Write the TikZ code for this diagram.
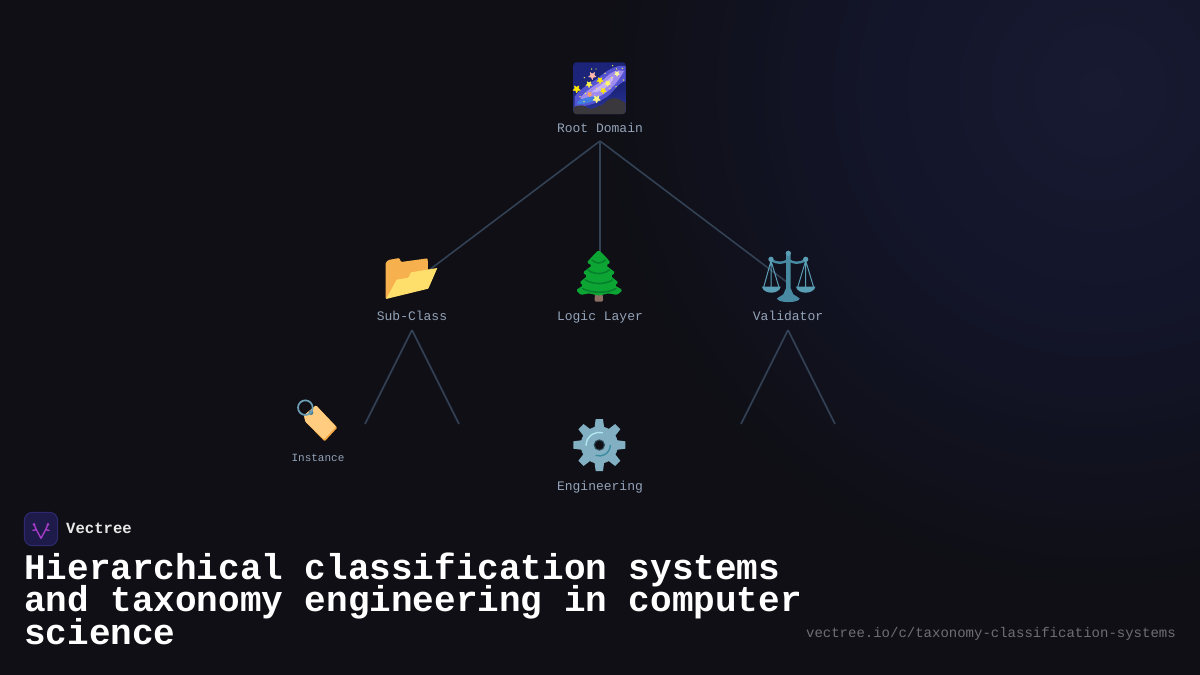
\documentclass[tikz,border=0pt]{standalone}
\usepackage{fontspec}
\setmainfont{Liberation Mono}
\definecolor{bgbase}{HTML}{0F0F15}
\definecolor{bgglow}{HTML}{171A31}
\definecolor{bgmid}{HTML}{13152A}
\definecolor{edgecol}{HTML}{334155}
\definecolor{labelcol}{HTML}{94A3B8}
\definecolor{urlcol}{HTML}{6E6E74}
\definecolor{brandcol}{HTML}{E8E8E8}
\definecolor{skytop}{HTML}{1B2478}
\definecolor{skybot}{HTML}{3B46B8}
\pgfdeclareradialshading{bgshade}{\pgfpoint{0bp}{0bp}}{color(0bp)=(bgglow); color(11bp)=(bgmid); color(25bp)=(bgbase); color(50bp)=(bgbase)}
\pgfdeclareverticalshading{skyshade}{100bp}{color(0bp)=(skybot); color(50bp)=(skytop); color(100bp)=(skytop)}
\tikzset{
  edge/.style={draw=edgecol,line width=1.6pt},
  lbl/.style={text=labelcol,font=\fontsize{13}{15}\selectfont,inner sep=0pt,anchor=base},
  lblsmall/.style={text=labelcol,font=\fontsize{11}{13}\selectfont,inner sep=0pt,anchor=base},
  titleline/.style={text=white,font=\fontsize{36}{36}\bfseries\selectfont,inner sep=0pt,anchor=base west},
  icon/.style={shift={#1},scale=1/3}
}
\newcommand\emstar[4]{\fill[#4,shift={(#1,#2)},line join=round,draw=#4,line width=.4pt] (90:#3) -- (126:0.45*#3) -- (162:#3) -- (198:0.45*#3) -- (234:#3) -- (270:0.45*#3) -- (306:#3) -- (342:0.45*#3) -- (18:#3) -- (54:0.45*#3) -- cycle;}
\begin{document}
\begin{tikzpicture}[x=1pt,y=-1pt]
\useasboundingbox (0,0) rectangle (1200,675);
\fill[bgbase] (0,0) rectangle (1200,675);
\begin{scope}
\clip (0,0) rectangle (1200,675);
\shade[shading=bgshade] (1100,90) circle (500);
\end{scope}

% labels
\node[lbl] (rootL) at (600,132.5) {Root Domain};
\node[lbl] (subL) at (412,320.5) {Sub-Class};
\node[lbl] (logicL) at (600,320.5) {Logic Layer};
\node[lbl] (validL) at (788,320.5) {Validator};
\node[lblsmall] (instL) at (318,461.5) {Instance};
\node[lbl] (engL) at (600,490.5) {Engineering};

% connector ends
\coordinate (rootOut) at (600,141);
\coordinate (subIcon) at (412,283);
\coordinate (logicIcon) at (600,283);
\coordinate (validIcon) at (788,283);
\coordinate (subOut) at (412,330);
\coordinate (validOut) at (788,330);
\coordinate (subA) at (365,424);
\coordinate (subB) at (459,424);
\coordinate (validA) at (741,424);
\coordinate (validB) at (835,424);
\draw[edge] (rootOut) -- (subIcon);
\draw[edge] (rootOut) -- (logicIcon);
\draw[edge] (rootOut) -- (validIcon);
\draw[edge] (subOut) -- (subA);
\draw[edge] (subOut) -- (subB);
\draw[edge] (validOut) -- (validA);
\draw[edge] (validOut) -- (validB);

% Milky way icon (zoom coordinates, origin 560,55)
\begin{scope}[icon={(560,55)}]
\begin{scope}
\clip[rounded corners=3pt] (40,22) rectangle (197,177);
\shade[shading=skyshade] (40,22) rectangle (197,177);
\fill[color={rgb,255:red,84;green,84;blue,210}] (44,125) .. controls (70,90) and (100,82) .. (125,60) .. controls (150,40) and (175,28) .. (197,34) -- (197,78) .. controls (170,84) and (160,118) .. (130,132) .. controls (105,148) and (70,156) .. (44,156) -- cycle;
\fill[color={rgb,255:red,160;green,140;blue,238}] (60,130) .. controls (85,98) and (120,85) .. (140,65) .. controls (155,50) and (172,42) .. (192,48) .. controls (180,70) and (160,100) .. (130,118) .. controls (105,132) and (80,140) .. (60,130) -- cycle;
\fill[color={rgb,255:red,200;green,180;blue,245}] (95,112) .. controls (110,98) and (135,82) .. (160,62) .. controls (165,75) and (145,95) .. (125,105) .. controls (115,110) and (105,114) .. (95,112) -- cycle;
\fill[color={rgb,255:red,66;green,125;blue,225}] (52,140) .. controls (75,125) and (100,124) .. (122,124) .. controls (105,138) and (80,148) .. (52,148) -- cycle;
\fill[color={rgb,255:red,58;green,56;blue,60}] (40,156) .. controls (60,150) and (72,148) .. (85,160) .. controls (100,166) and (115,152) .. (130,148) .. controls (150,124) and (172,124) .. (197,145) -- (197,177) -- (40,177) -- cycle;
\end{scope}
\emstar{50}{102}{12}{yellow!90!orange}
\emstar{87}{88}{10}{yellow!70!white}
\emstar{120}{76}{10}{yellow!90!orange}
\emstar{143}{85}{9}{yellow!60!white}
\emstar{130}{107}{9}{yellow!90!orange}
\emstar{110}{132}{12}{yellow!50!white}
\emstar{97}{62}{12}{pink!90!orange}
\emstar{89}{118}{8}{orange!50!pink}
\emstar{171}{56}{8}{yellow!40!white}
\foreach \sx/\sy in {73/68,95/42,108/42,158/32,170/42,187/40,168/95,190/75,135/55,60/125,72/140,150/100,110/100,76/115,155/68}
  \fill[yellow!70!white] (\sx,\sy) circle (2.2);
\end{scope}

% Folder icon (origin 360,240)
\begin{scope}[icon={(360,240)}]
\fill[color={rgb,255:red,246;green,176;blue,77},rounded corners=1pt] (77,177) -- (77,68) -- (85,60) -- (118,54) -- (123,66) -- (203,55) -- (205,120) -- cycle;
\fill[color={rgb,255:red,255;green,223;blue,107},rounded corners=.5pt] (78,177) -- (110,119) -- (145,113) -- (153,97) -- (232,84) -- (205,146) -- cycle;
\end{scope}

% Tree icon (origin 360,240)
\begin{scope}[icon={(360,240)}]
\definecolor{treeb}{RGB}{12,165,52}
\definecolor{treed}{RGB}{6,128,44}
\fill[color={rgb,255:red,141;green,110;blue,99},rounded corners=1.5pt] (706,155) -- (727,155) -- (730,185) -- (703,185) -- cycle;
\fill[treeb,rounded corners=1.5pt] (716,30) -- (735,48) -- (752,68) -- (738,76) -- (766,98) -- (752,108) -- (776,128) -- (764,136) -- (788,150) -- (772,165) -- (745,160) -- (716,167) -- (687,160) -- (662,165) -- (648,150) -- (670,136) -- (658,128) -- (682,108) -- (668,98) -- (696,76) -- (680,68) -- (698,48) -- cycle;
\begin{scope}[treed,line width=1.6pt,line cap=round]
\draw (696,60) .. controls (708,72) and (724,72) .. (736,60);
\draw (684,90) .. controls (702,104) and (730,104) .. (748,90);
\draw (676,120) .. controls (700,134) and (735,134) .. (757,120);
\draw (668,146) .. controls (695,160) and (742,160) .. (768,146);
\end{scope}
\end{scope}

% Scales icon (origin 740,240)
\begin{scope}[icon={(740,240)}]
\definecolor{sc}{RGB}{90,158,182}
\definecolor{scd}{RGB}{72,138,162}
\draw[sc,line width=1pt] (93,62) -- (71,142) (93,62) -- (117,142) (93,62) -- (93,142);
\draw[sc,line width=1pt] (197,62) -- (173,142) (197,62) -- (221,142) (197,62) -- (197,142);
\fill[sc] (66,140) .. controls (70,164) and (118,164) .. (122,140) -- cycle;
\fill[sc] (168,140) .. controls (172,164) and (222,164) .. (226,140) -- cycle;
\draw[scd,line width=2.4pt,line cap=round] (93,60) .. controls (115,72) and (128,70) .. (145,60) .. controls (162,70) and (175,72) .. (197,60);
\fill[scd] (138,45) -- (152,45) -- (152,145) -- (160,163) -- (179,175) .. controls (179,190) and (111,190) .. (111,175) -- (130,163) -- (138,145) -- cycle;
\fill[sc] (145,40) circle (8) (93,58) circle (8) (197,58) circle (8);
\end{scope}

% Tag icon (origin 280,390)
\begin{scope}[icon={(280,390)}]
\fill[color={rgb,255:red,244;green,167;blue,66},rounded corners=1pt] (72,76) -- (108,46) -- (172,113) -- (134,154) -- (76,95) -- cycle;
\fill[color={rgb,255:red,255;green,204;blue,128},rounded corners=1pt] (72,76) -- (108,46) -- (168,110) -- (132,148) -- (76,95) -- cycle;
\fill[color={rgb,255:red,70;green,120;blue,140}] (93,68) circle (7);
\draw[color={rgb,255:red,107;green,159;blue,181},line width=1.7pt] (76,53) circle (22);
\end{scope}

% Gear icon (origin 550,410)
\begin{scope}[icon={(550,410)}]
\definecolor{gearc}{RGB}{130,176,194}
\begin{scope}[shift={(148,105)}]
\foreach \a in {0,45,...,315}
  \fill[gearc,rotate=\a] (-16,-40) -- (-11,-78) -- (11,-78) -- (16,-40) -- cycle;
\fill[gearc] (0,0) circle (56);
\draw[color={rgb,255:red,178;green,232;blue,240},line width=1.4pt] (-40,2) arc (180:285:40);
\draw[color={rgb,255:red,60;green,140;blue,160},line width=1.4pt] (33,0) arc (0:110:33);
\fill[color={rgb,255:red,44;green,72;blue,84}] (0,0) circle (17);
\fill[bgbase] (0,0) circle (13);
\end{scope}
\end{scope}

% Brand logo (origin 15,505)
\begin{scope}[icon={(15,505)}]
\definecolor{logoc}{RGB}{166,60,200}
\fill[color={rgb,255:red,30;green,27;blue,75},draw={rgb,255:red,46;green,42;blue,112},line width=1pt,rounded corners=8pt] (28,22) rectangle (128,122);
\draw[logoc,line width=1.4pt,line join=round,line cap=round] (64,74) -- (78,100) -- (92,74) (58,60) -- (64,74) -- (54,76) (98,60) -- (92,74) -- (102,76);
\fill[logoc] (57,58) circle (4.5) (99,58) circle (4.5);
\end{scope}

% Text
\node[text=brandcol,font=\fontsize{15.6}{18}\bfseries\selectfont,inner sep=0pt,anchor=base west] (brand) at (66,533.5) {Vectree};
\node[titleline] (t1) at (24,579) {Hierarchical classification systems};
\node[titleline] (t2) at (24,611) {and taxonomy engineering in computer};
\node[titleline] (t3) at (24,644) {science};
\node[text=urlcol,font=\fontsize{14}{16}\selectfont,inner sep=0pt,anchor=base east] (url) at (1176,637) {vectree.io/c/taxonomy-classification-systems};
\end{tikzpicture}
\end{document}
